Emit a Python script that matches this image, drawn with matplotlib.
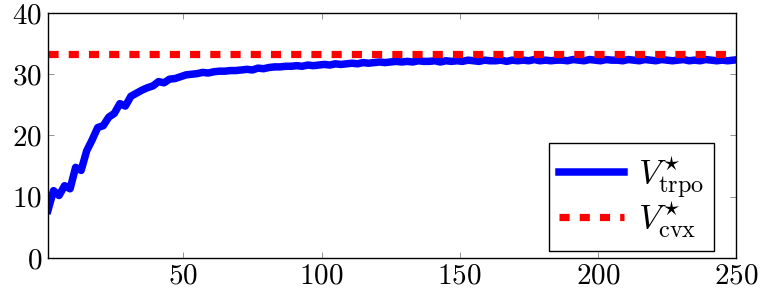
import matplotlib
matplotlib.use('Agg')
import matplotlib.pyplot as plt
import numpy as np

plt.rcParams['font.family'] = 'serif'
plt.rcParams['font.serif'] = ['cmr10']
plt.rcParams['mathtext.fontset'] = 'cm'
plt.rcParams['axes.formatter.use_mathtext'] = True

# V_trpo values, sampled every 2 iterations starting at iteration 1
v_trpo = [
    7.8, 11.0, 10.2, 11.8, 11.3, 14.8, 14.3, 17.5, 19.3, 21.3,
    21.6, 23.0, 23.6, 25.2, 24.8, 26.4, 26.9, 27.4, 27.8, 28.1,
    28.8, 28.6, 29.2, 29.3, 29.6,
    29.9, 30.0, 30.1, 30.3, 30.2, 30.4, 30.5, 30.5, 30.6, 30.6,
    30.7, 30.8, 30.7, 31.0, 30.9, 31.1, 31.2, 31.2, 31.3, 31.3,
    31.4, 31.3, 31.5, 31.4, 31.5, 31.6, 31.5, 31.7, 31.6, 31.7,
    31.8, 31.7, 31.9, 31.8, 31.9, 32.0, 31.9, 32.0, 32.1, 32.0,
    32.1, 32.0, 32.2, 32.1, 32.1, 32.2, 32.0, 32.2, 32.1, 32.2,
    32.1, 32.3, 32.2, 32.1, 32.3, 32.2, 32.2, 32.3, 32.1, 32.3,
    32.2, 32.3, 32.2, 32.4, 32.2, 32.3, 32.2, 32.3, 32.3, 32.2,
    32.4, 32.3, 32.2, 32.4, 32.3, 32.2, 32.4, 32.3, 32.3, 32.2,
    32.4, 32.3, 32.2, 32.4, 32.3, 32.2, 32.4, 32.3, 32.2, 32.3,
    32.4, 32.2, 32.3, 32.2, 32.4, 32.3, 32.2, 32.3, 32.2, 32.3,
]
iters = np.arange(1, 2 * len(v_trpo), 2)
v_cvx = 33.3

x_ticks = [50, 100, 150, 200, 250]
y_ticks = [0, 10, 20, 30, 40]

fig = plt.figure(figsize=(7.64, 2.95), dpi=100)
ax = fig.add_axes([0.0628, 0.1254, 0.9006, 0.8306])

ax.plot(iters, v_trpo, color='#0000ff', lw=5.4, label=r'$V^{\star}_{\mathrm{trpo}}$')
ax.axhline(v_cvx, color='#ff0000', lw=5.2, linestyle=(0, (1.4, 1.4)),
           label=r'$V^{\star}_{\mathrm{cvx}}$')

ax.set_xlim(1, 250)
ax.set_ylim(0, 40)
ax.set_xticks(x_ticks)
ax.set_yticks(y_ticks)
ax.tick_params(direction='in', length=4.5, width=0.6, color='#808080',
               top=True, right=True, labelsize=21, pad=4)
for s in ax.spines.values():
    s.set_linewidth(1.0)

leg = ax.legend(loc='lower right', bbox_to_anchor=(0.968, 0.029), borderaxespad=0,
                fontsize=25, handlelength=1.85, handletextpad=0.4,
                labelspacing=0.0, borderpad=0.3, fancybox=False, framealpha=1,
                edgecolor='black')
leg.get_frame().set_linewidth(1.0)

fig.savefig('out.png', dpi=100)
